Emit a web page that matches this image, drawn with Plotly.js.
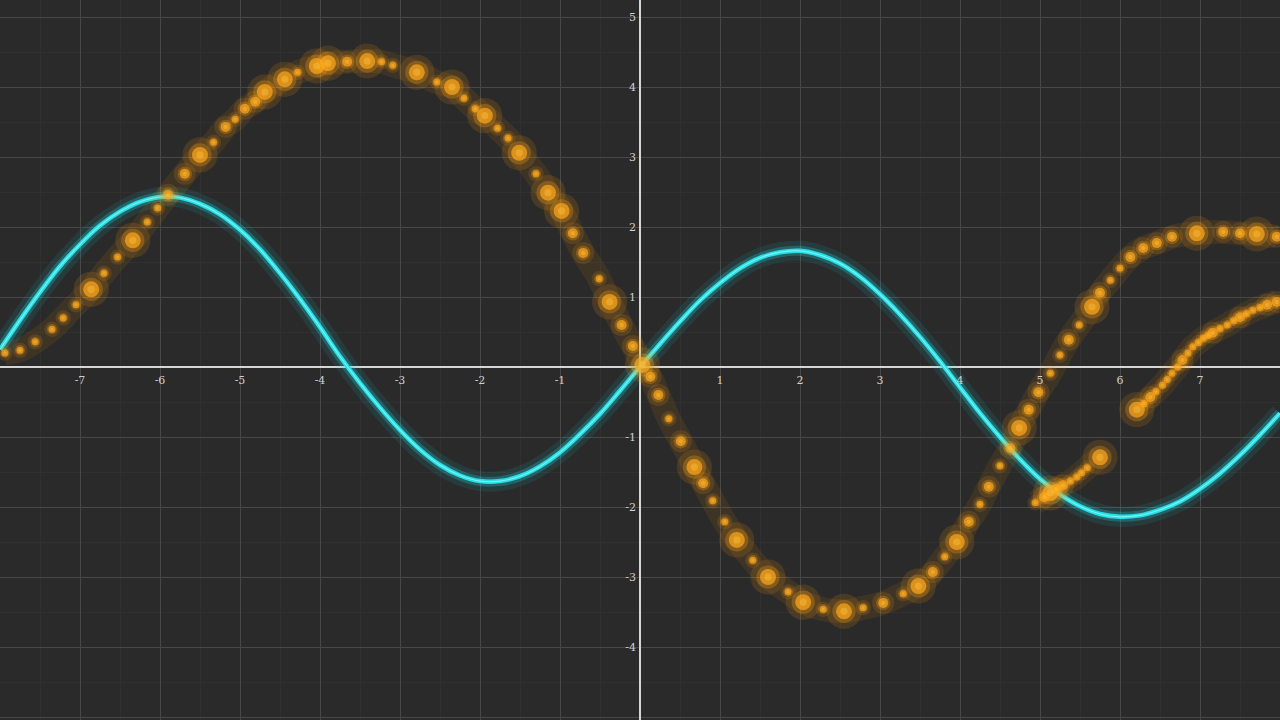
<!DOCTYPE html>
<html>
<head>
<meta charset="utf-8">
<script src="https://cdn.plot.ly/plotly-3.0.1.min.js"></script>
<style>
  html, body { margin: 0; padding: 0; background: #2a2a2a; }
  #chart { width: 1280px; height: 720px; }
</style>
</head>
<body>
<div id="chart"></div>
<script>
// ---- Data ----
// Cyan wave (sampled every 0.25 units)
const waveX = [-8, -7.75, -7.5, -7.25, -7, -6.75, -6.5, -6.25, -6, -5.75, -5.5, -5.25, -5, -4.75, -4.5, -4.25,
  -4, -3.75, -3.5, -3.25, -3, -2.75, -2.5, -2.25, -2, -1.75, -1.5, -1.25, -1, -0.75, -0.5, -0.25,
  0, 0.25, 0.5, 0.75, 1, 1.25, 1.5, 1.75, 2, 2.25, 2.5, 2.75, 3, 3.25, 3.5, 3.75,
  4, 4.25, 4.5, 4.75, 5, 5.25, 5.5, 5.75, 6, 6.25, 6.5, 6.75, 7, 7.25, 7.5, 7.75, 8];
const waveY = [0.25, 0.67, 1.07, 1.44, 1.75, 2.02, 2.22, 2.36, 2.43, 2.42, 2.33, 2.18, 1.96, 1.68, 1.34, 0.97,
  0.57, 0.15, -0.23, -0.58, -0.9, -1.18, -1.4, -1.55, -1.63, -1.63, -1.56, -1.42, -1.22, -0.96, -0.67, -0.34,
  0.0, 0.33, 0.65, 0.95, 1.2, 1.41, 1.56, 1.64, 1.66, 1.6, 1.48, 1.29, 1.04, 0.75, 0.43, 0.08,
  -0.29, -0.66, -1.0, -1.32, -1.6, -1.82, -1.99, -2.1, -2.14, -2.12, -2.04, -1.92, -1.74, -1.52, -1.26, -0.97, -0.66];

// Orange dotted series (main branch)
const dotsX = [-7.94, -7.75, -7.56, -7.35, -7.21, -7.05, -6.86, -6.7, -6.53, -6.34, -6.16, -6.03, -5.9, -5.69, -5.5,
  -5.33, -5.18, -5.06, -4.94, -4.81, -4.69, -4.44, -4.28, -4.04, -3.9, -3.66, -3.41, -3.23, -3.09, -2.79,
  -2.54, -2.35, -2.2, -2.06, -1.94, -1.78, -1.65, -1.51, -1.3, -1.15, -0.98, -0.84, -0.71, -0.51, -0.38,
  -0.23, -0.09, 0.03, 0.13, 0.23, 0.36, 0.51, 0.68, 0.79, 0.91, 1.06, 1.21, 1.41, 1.6, 1.85,
  2.04, 2.29, 2.55, 2.79, 3.04, 3.29, 3.48, 3.66, 3.81, 3.96, 4.11, 4.25, 4.36, 4.5, 4.63,
  4.74, 4.86, 4.98, 5.13, 5.25, 5.36, 5.49, 5.65, 5.75, 5.88, 6.0, 6.13, 6.29, 6.46, 6.65,
  6.96, 7.29, 7.5, 7.71, 7.96];
const dotsY = [0.2, 0.24, 0.36, 0.54, 0.7, 0.89, 1.11, 1.34, 1.57, 1.81, 2.07, 2.27, 2.46, 2.76, 3.03,
  3.21, 3.43, 3.54, 3.69, 3.79, 3.93, 4.11, 4.21, 4.3, 4.34, 4.36, 4.37, 4.36, 4.31, 4.21,
  4.07, 4.0, 3.84, 3.69, 3.59, 3.41, 3.27, 3.06, 2.76, 2.49, 2.23, 1.91, 1.63, 1.26, 0.93,
  0.6, 0.3, 0.03, -0.14, -0.4, -0.74, -1.06, -1.43, -1.66, -1.91, -2.21, -2.47, -2.76, -3.0, -3.21,
  -3.36, -3.46, -3.49, -3.44, -3.37, -3.24, -3.13, -2.93, -2.71, -2.5, -2.21, -1.96, -1.71, -1.41, -1.16,
  -0.87, -0.61, -0.36, -0.09, 0.17, 0.39, 0.6, 0.86, 1.06, 1.24, 1.41, 1.57, 1.7, 1.77, 1.86,
  1.91, 1.93, 1.91, 1.9, 1.86];
const dotsWeight = [1, 1, 1, 1, 1, 1, 3, 1, 1, 3, 1, 1, 2, 2, 3,
  1, 2, 1, 2, 2, 3, 3, 1, 3, 3, 2, 3, 1, 1, 3,
  1, 3, 1, 1, 3, 1, 1, 3, 1, 3, 3, 2, 2, 1, 3,
  2, 2, 3, 2, 2, 1, 2, 3, 2, 1, 1, 3, 1, 3, 1,
  3, 1, 3, 1, 2, 1, 3, 2, 1, 3, 2, 1, 2, 1, 2,
  3, 2, 2, 1, 1, 2, 1, 3, 2, 1, 1, 2, 2, 2, 2,
  3, 2, 2, 3, 2];

// Orange short branch (lower right)
const branchAX = [4.94, 5.05, 5.13, 5.21, 5.29, 5.38, 5.46, 5.52, 5.59, 5.75];
const branchAY = [-1.94, -1.86, -1.8, -1.74, -1.69, -1.63, -1.57, -1.51, -1.44, -1.29];
const branchAWeight = [1, 2, 3, 2, 2, 1, 1, 1, 1, 3];

// Orange rising branch (right edge)
const branchBX = [6.21, 6.3, 6.38, 6.45, 6.53, 6.59, 6.65, 6.72, 6.78, 6.85, 6.91, 6.98, 7.04, 7.1, 7.16, 7.25, 7.34, 7.42, 7.5, 7.58, 7.66, 7.75, 7.84, 7.96];
const branchBY = [-0.61, -0.52, -0.43, -0.35, -0.26, -0.18, -0.09, 0.0, 0.1, 0.2, 0.29, 0.35, 0.41, 0.45, 0.49, 0.55, 0.6, 0.66, 0.71, 0.76, 0.81, 0.85, 0.89, 0.93];
const branchBWeight = [3, 1, 2, 1, 1, 1, 1, 1, 2, 1, 1, 1, 1, 1, 2, 1, 1, 1, 2, 1, 1, 1, 2, 2];

// Tick labels
const xTickVals = [-7, -6, -5, -4, -3, -2, -1, 1, 2, 3, 4, 5, 6, 7];
const xTickText = ['-7', '-6', '-5', '-4', '-3', '-2', '-1', '1', '2', '3', '4', '5', '6', '7'];
const yTickVals = [-5, -4, -3, -2, -1, 1, 2, 3, 4, 5];
const yTickText = ['-5', '-4', '-3', '-2', '-1', '1', '2', '3', '4', '5'];

// ---- Styling ----
const CYAN = '#26e0e6';
const ORANGE = '#ffa81c';
const sizeOf = w => ({1: 7, 2: 10, 3: 16})[w];

function orangeTraces(xs, ys, ws) {
  const sizes = ws.map(sizeOf);
  return [
    { x: xs, y: ys, mode: 'lines', line: { color: 'rgba(255,150,0,0.09)', width: 24, shape: 'spline' }, hoverinfo: 'skip' },
    { x: xs, y: ys, mode: 'markers', marker: { color: 'rgba(255,155,10,0.20)', size: sizes.map(s => s * 2.2), line: { width: 0 } }, hoverinfo: 'skip' },
    { x: xs, y: ys, mode: 'markers', marker: { color: 'rgba(255,160,20,0.40)', size: sizes.map(s => s * 1.45), line: { width: 0 } }, hoverinfo: 'skip' },
    { x: xs, y: ys, mode: 'markers', marker: { color: ORANGE, size: sizes, line: { width: 0 } } },
    { x: xs, y: ys, mode: 'markers', marker: { color: 'rgba(255,200,60,0.55)', size: sizes.map(s => s * 0.45), line: { width: 0 } }, hoverinfo: 'skip' },
  ];
}

const traces = [
  { x: waveX, y: waveY, mode: 'lines', line: { color: 'rgba(30,220,230,0.10)', width: 20, shape: 'spline' }, hoverinfo: 'skip' },
  { x: waveX, y: waveY, mode: 'lines', line: { color: 'rgba(30,220,230,0.25)', width: 10, shape: 'spline' }, hoverinfo: 'skip' },
  { x: waveX, y: waveY, mode: 'lines', line: { color: CYAN, width: 4.5, shape: 'spline' } },
  { x: waveX, y: waveY, mode: 'lines', line: { color: 'rgba(190,255,255,0.55)', width: 1.2, shape: 'spline' }, hoverinfo: 'skip' },
  ...orangeTraces(dotsX, dotsY, dotsWeight),
  ...orangeTraces(branchAX, branchAY, branchAWeight),
  ...orangeTraces(branchBX, branchBY, branchBWeight),
];

const tickFont = { family: 'DejaVu Serif, serif', size: 11, color: '#cfcfcf' };

const layout = {
  width: 1280, height: 720,
  margin: { l: 0, r: 0, t: 0, b: 0 },
  paper_bgcolor: '#2a2a2a',
  plot_bgcolor: '#2a2a2a',
  showlegend: false,
  xaxis: {
    range: [-8, 8], anchor: 'free', position: (720 - 367) / 720,
    tickvals: xTickVals, ticktext: xTickText, tickfont: tickFont, ticks: '', ticklabelstandoff: 5,
    showgrid: true, gridcolor: '#484848', gridwidth: 1,
    minor: { dtick: 0.5, showgrid: true, gridcolor: '#303030', gridwidth: 1 },
    zeroline: true, zerolinecolor: '#d6d6d6', zerolinewidth: 2,
    showline: false, fixedrange: true
  },
  yaxis: {
    range: [-(720 - 367) / 70, 367 / 70], anchor: 'free', position: 0.5,
    tickvals: yTickVals, ticktext: yTickText, tickfont: tickFont, ticks: '', ticklabelstandoff: 4,
    showgrid: true, gridcolor: '#484848', gridwidth: 1,
    minor: { dtick: 0.5, showgrid: true, gridcolor: '#303030', gridwidth: 1 },
    zeroline: true, zerolinecolor: '#d6d6d6', zerolinewidth: 2,
    showline: false, fixedrange: true
  }
};

Plotly.newPlot('chart', traces, layout, { displayModeBar: false, staticPlot: true });
</script>
</body>
</html>
